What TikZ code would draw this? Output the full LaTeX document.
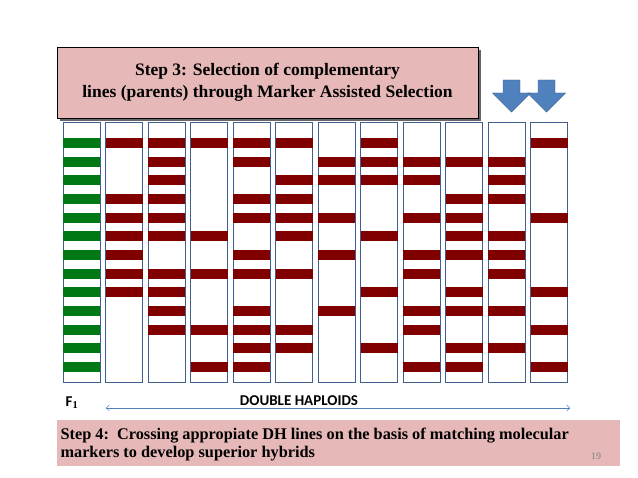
\documentclass[tikz,border=0pt]{standalone}
\usepackage{fontspec}
\setmainfont{Liberation Serif}
\newfontfamily\labelfont{Carlito}
\usetikzlibrary{arrows.meta}
\definecolor{boxpink}{RGB}{230,184,183}
\definecolor{laneblue}{RGB}{65,95,140}
\definecolor{markred}{RGB}{128,0,0}
\definecolor{markgreen}{RGB}{0,120,20}
\definecolor{arrowblue}{RGB}{79,129,189}
\tikzset{
    stepbox/.style={draw=black, fill=boxpink, inner sep=0pt},
    lane/.style={draw=laneblue, thick, fill=white},
    marker/.style={fill=#1},
    selarrow/.style={draw=arrowblue!80!black, fill=arrowblue}
}
\newcommand{\lane}[1]{
    % Lane background
    \draw[lane] ({63+42.5*#1},122) rectangle ({100+42.5*#1},382);
}
\newcommand{\lanemark}[3]{
    \fill[marker=#3] ({63+42.5*#1},{138+18.67*#2}) rectangle ({100+42.5*#1},{148+18.67*#2});
}
\newcommand{\selarrow}[1]{
    \draw[selarrow] ({#1-8.5},80) -- ({#1+8.5},80) -- ({#1+8.5},93) -- ({#1+19},93)
        -- (#1,112) -- ({#1-19},93) -- ({#1-8.5},93) -- cycle;
}

\begin{document}
\begin{tikzpicture}[x=1pt,y=-1pt]
    \useasboundingbox (0,0) rectangle (638,478);

    % Title box with shadow
    \fill[black!60] (60,50) rectangle (481,121);
    \node[stepbox, minimum width=421pt, minimum height=71pt, align=center, font=\bfseries\fontsize{17.5}{22}\selectfont] (step3) at (267.5,82.5) {Step 3: Selection of complementary\\ lines (parents) through Marker Assisted Selection};

    % Selection arrows
    \selarrow{511.5}
    \selarrow{546.5}

    % Lanes
    \foreach \c in {0, ..., 11}
        \lane{\c};

    % F1 markers
    \foreach \r in {0, ..., 12}
        \lanemark{0}{\r}{markgreen};

    % Double haploid markers
    \foreach \c/\rows in {1/{0,3,4,5,6,7,8}, 2/{0,1,2,3,4,5,7,8,9,10}, 3/{0,5,7,10,12},
            4/{0,1,3,4,6,7,9,10,11,12}, 5/{0,2,3,4,5,7,10,11}, 6/{1,2,4,6,9},
            7/{0,1,2,5,8,11}, 8/{1,2,4,6,7,9,10,12}, 9/{1,3,4,5,6,8,9,11,12},
            10/{1,2,3,5,6,7,9,11}, 11/{0,4,8,10,12}} {
            \foreach \r in \rows
                \lanemark{\c}{\r}{markred};
        }

    % Labels below the lanes
    \node[font=\labelfont\bfseries\fontsize{15}{18}\selectfont] (f1) at (72,403) {F$_{\mathbf 1}$};
    \node[font=\labelfont\bfseries\fontsize{15}{18}\selectfont] (dh) at (299,401) {DOUBLE HAPLOIDS};
    \coordinate (dhleft) at (106,408);
    \coordinate (dhright) at (570,408);
    \draw[{Straight Barb[length=3pt]}-{Straight Barb[length=3pt]}, arrowblue] (dhleft) -- (dhright);

    % Step 4 box
    \node[stepbox, draw=none, minimum width=563pt, minimum height=46pt] (step4) at (338.5,443) {};
    \node[anchor=west, align=left, font=\bfseries\fontsize{16.3}{18}\selectfont] (step4text) at (57,445) {Step 4:\ \ Crossing appropiate DH lines on the basis of matching molecular\\ markers to develop superior hybrids};
    \node[text=black!50, font=\fontsize{10}{12}\selectfont] (page) at (596,456) {19};
\end{tikzpicture}
\end{document}
